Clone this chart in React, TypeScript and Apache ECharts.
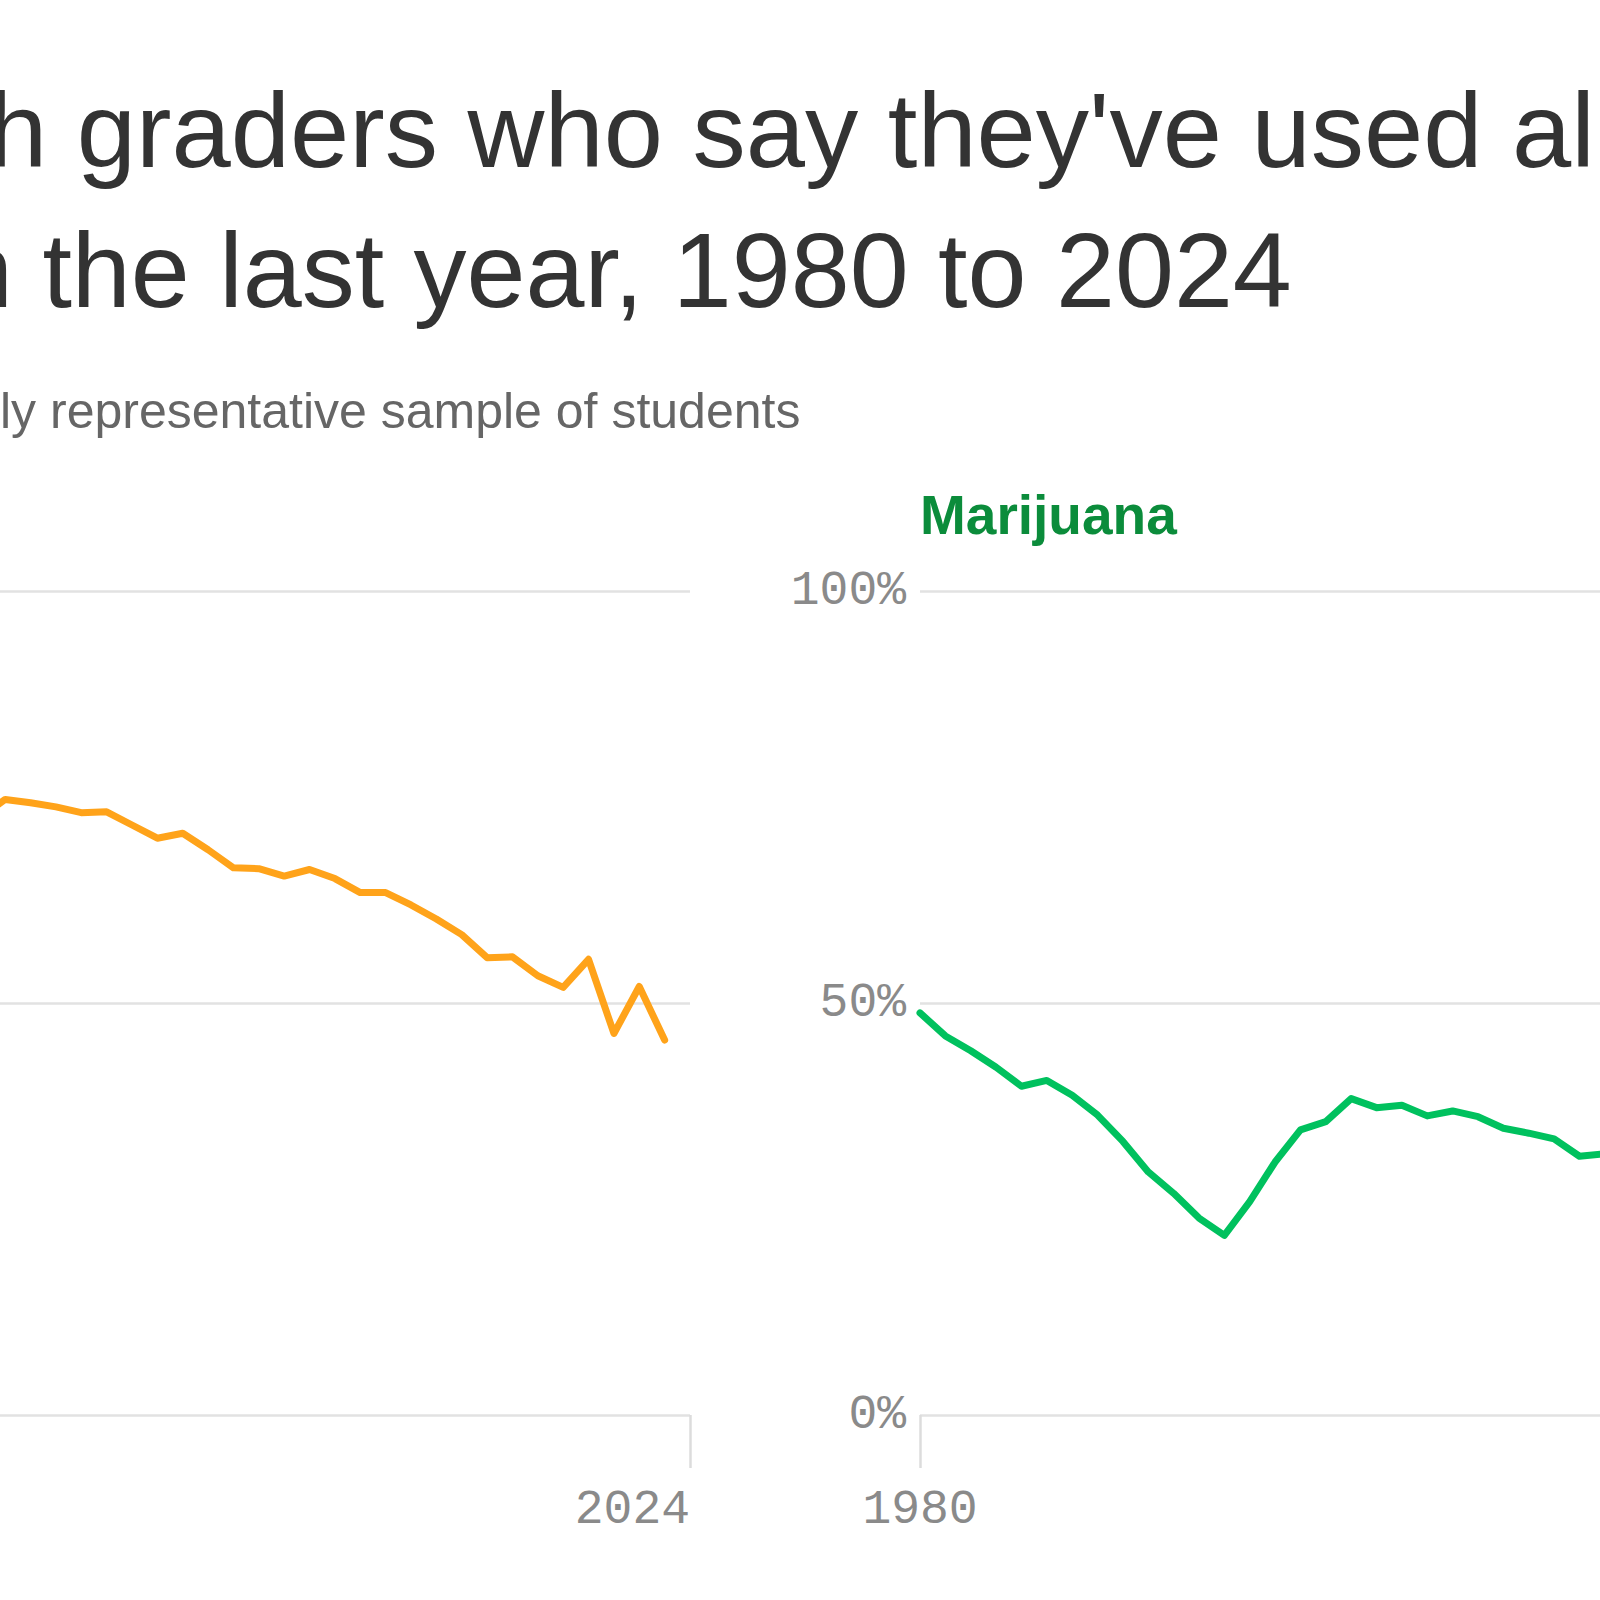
import React, { useEffect, useRef } from "react";
import * as echarts from "echarts";

const years = [
  1980, 1981, 1982, 1983, 1984, 1985, 1986, 1987, 1988, 1989,
  1990, 1991, 1992, 1993, 1994, 1995, 1996, 1997, 1998, 1999,
  2000, 2001, 2002, 2003, 2004, 2005, 2006, 2007, 2008, 2009,
  2010, 2011, 2012, 2013, 2014, 2015, 2016, 2017, 2018, 2019,
  2020, 2021, 2022, 2023,
];

const alcohol = [
  87.9, 87.0, 86.8, 87.3, 86.0, 85.6, 84.5, 85.7, 85.3, 82.7,
  80.6, 77.7, 76.8, 76.0, 73.0, 73.7, 72.5, 74.7, 74.3, 73.8,
  73.1, 73.2, 71.6, 70.0, 70.6, 68.6, 66.4, 66.3, 65.4, 66.2,
  65.1, 63.4, 63.4, 61.9, 60.2, 58.3, 55.5, 55.6, 53.3, 51.9,
  55.3, 46.3, 52.0, 45.5,
];

const marijuana = [
  48.8, 46.0, 44.2, 42.2, 39.9, 40.6, 38.8, 36.4, 33.2, 29.5,
  26.9, 23.9, 21.8, 25.9, 30.7, 34.6, 35.6, 38.4, 37.3, 37.6,
  36.3, 36.9, 36.2, 34.8, 34.2, 33.5, 31.4, 31.7, 32.4, 32.8,
  34.8, 36.4, 36.4, 36.4, 35.1, 34.9, 35.6, 37.1, 35.9, 35.7,
  35.2, 30.5, 30.7, 29.0,
];

const xRange = [1980, 2024];
const yTicks = [0, 50, 100];

const titleLine1 = "h graders who say they've used al";
const titleLine2 = "n the last year, 1980 to 2024";
const subtitle = "ly representative sample of students";
const panelTitle = "Marijuana";

const ORANGE = "#ffa31a";
const GREEN = "#00c15e";
const GRID_COLOR = "#e2e2e2";
const LABEL_COLOR = "#8a8a8a";
const MONO = '"Liberation Mono", monospace';
const SANS = '"Liberation Sans", Arial, sans-serif';

// The visible page is a window onto a wider chart canvas.
const SHIFT = 600;
const CANVAS_W = 2700;

export default function App() {
  const ref = useRef<HTMLDivElement>(null);

  useEffect(() => {
    if (!ref.current) return;
    const chart = echarts.init(ref.current, undefined, { renderer: "svg" });

    const panelWidth = 1116;
    const grids = [
      { left: SHIFT + 690 - panelWidth, top: 591, width: panelWidth, height: 824 },
      { left: SHIFT + 920, top: 591, width: panelWidth, height: 824 },
    ];

    const xAxes = grids.map((_, i) => ({
      gridIndex: i,
      type: "value",
      min: xRange[0],
      max: xRange[1],
      interval: xRange[1] - xRange[0],
      axisLine: { show: false },
      axisTick: { show: true, length: 53, lineStyle: { color: "#dcdcdc", width: 2.5 } },
      splitLine: { show: false },
      axisLabel: {
        fontFamily: MONO,
        fontSize: 48,
        color: LABEL_COLOR,
        margin: 71,
        showMinLabel: i === 1,
        showMaxLabel: i === 0,
        alignMinLabel: "center",
        alignMaxLabel: "right",
        formatter: (v: number) => String(v),
      },
    }));

    const yAxes = grids.map((_, i) => ({
      gridIndex: i,
      type: "value",
      min: yTicks[0],
      max: yTicks[2],
      interval: yTicks[1] - yTicks[0],
      axisLine: { show: false },
      axisTick: { show: false },
      splitLine: { show: true, lineStyle: { color: GRID_COLOR, width: 2.5 } },
      axisLabel: {
        show: i === 1,
        fontFamily: MONO,
        fontSize: 48,
        color: LABEL_COLOR,
        margin: 14,
        padding: [4, 0, 0, 0],
        formatter: "{value}%",
      },
    }));

    const option = {
      animation: false,
      backgroundColor: "#ffffff",
      grid: grids,
      xAxis: xAxes,
      yAxis: yAxes,
      series: [
        {
          name: "Alcohol",
          type: "line",
          xAxisIndex: 0,
          yAxisIndex: 0,
          showSymbol: false,
          data: years.map((y, i) => [y, alcohol[i]]),
          lineStyle: { color: ORANGE, width: 7, cap: "round", join: "round" },
          itemStyle: { color: ORANGE },
        },
        {
          name: "Marijuana",
          type: "line",
          xAxisIndex: 1,
          yAxisIndex: 1,
          showSymbol: false,
          data: years.map((y, i) => [y, marijuana[i]]),
          lineStyle: { color: GREEN, width: 7, cap: "round", join: "round" },
          itemStyle: { color: GREEN },
        },
      ],
      graphic: [
        {
          type: "text",
          x: SHIFT - 12,
          y: 130,
          style: {
            text: titleLine1,
            fontFamily: SANS,
            fontSize: 106.5,
            fill: "#333333",
            align: "left",
            verticalAlign: "middle",
          },
        },
        {
          type: "text",
          x: SHIFT - 46,
          y: 270,
          style: {
            text: titleLine2,
            fontFamily: SANS,
            fontSize: 106,
            fill: "#333333",
            align: "left",
            verticalAlign: "middle",
          },
        },
        {
          type: "text",
          x: SHIFT,
          y: 411,
          style: {
            text: subtitle,
            fontFamily: SANS,
            fontSize: 50,
            fill: "#666666",
            align: "left",
            verticalAlign: "middle",
          },
        },
        {
          type: "text",
          x: SHIFT + 920,
          y: 515,
          style: {
            text: panelTitle,
            fontFamily: SANS,
            fontSize: 55,
            fontWeight: "bold",
            fill: "#0b8c3b",
            align: "left",
            verticalAlign: "middle",
          },
        },
      ],
    };

    chart.setOption(option as any);
    return () => chart.dispose();
  }, []);

  return (
    <div
      style={{
        position: "fixed",
        left: 0,
        top: 0,
        width: 1600,
        height: 1600,
        overflow: "hidden",
        background: "#fff",
      }}
    >
      <div
        ref={ref}
        style={{ position: "absolute", left: -SHIFT, top: 0, width: CANVAS_W, height: 1600 }}
      />
    </div>
  );
}
